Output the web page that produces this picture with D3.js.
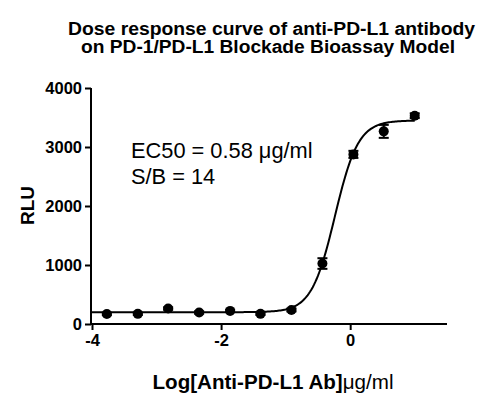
<!DOCTYPE html>
<html><head><meta charset="utf-8">
<script src="https://cdn.jsdelivr.net/npm/d3@7"></script>
<style>body{margin:0;background:#fff}svg{display:block}</style>
</head><body>
<svg id="c" width="500" height="400"></svg>
<script>
const logDose = [-3.77, -3.29, -2.82, -2.34, -1.86, -1.39, -0.91, -0.43, 0.05, 0.52, 1.0];
const rlu     = [170, 172, 262, 195, 222, 172, 238, 1025, 2875, 3265, 3530];
const sem     = [20, 20, 20, 20, 20, 20, 25, 90, 60, 110, 40];
const fitParams = [200, 3450, -0.237, 2.4]; // bottom, top, logEC50, hill
const xTicks = [-4, -2, 0];
const yTicks = [0, 1000, 2000, 3000, 4000];
const titleLines = ["Dose response curve of anti-PD-L1 antibody", "on PD-1/PD-L1 Blockade Bioassay Model"];

const svg = d3.select("#c");
const x = d3.scaleLinear().domain([-4, 1.5]).range([92, 447]);
const y = d3.scaleLinear().domain([0, 4000]).range([324, 88]);
const F = "'Liberation Sans', Arial, sans-serif";
const fmt = d => String(d);

svg.append("g").attr("transform", "translate(0,324)")
  .call(d3.axisBottom(x).tickValues(xTicks).tickSize(6).tickPadding(4).tickFormat(fmt))
  .call(g => { g.select(".domain").attr("stroke-width", 2).attr("d", "M91,0H447");
    g.selectAll(".tick line").attr("stroke-width", 2);
    g.selectAll("text").attr("font-family", F).attr("font-weight", "bold").attr("font-size", 16.5); });
svg.append("g").attr("transform", "translate(91,0)")
  .call(d3.axisLeft(y).tickValues(yTicks).tickSize(6).tickPadding(3).tickFormat(fmt))
  .call(g => { g.select(".domain").attr("stroke-width", 2).attr("d", "M0,88V325");
    g.selectAll(".tick line").attr("stroke-width", 2);
    g.selectAll("text").attr("font-family", F).attr("font-weight", "bold").attr("font-size", 16.5); });

const [fBot, fTop, fLec, fHill] = fitParams;
const curve = d3.range(-4, 1.001, 0.02).map(v => [v, fBot + (fTop - fBot) / (1 + Math.pow(10, (fLec - v) * fHill))]);
svg.append("path").datum(curve)
  .attr("d", d3.line().x(d => x(d[0])).y(d => y(d[1])))
  .attr("fill", "none").attr("stroke", "#000").attr("stroke-width", 2);

const pts = logDose.map((d, i) => ({x: d, y: rlu[i], e: sem[i]}));
const eb = svg.append("g").attr("stroke", "#000").attr("stroke-width", 2);
pts.forEach(p => {
  eb.append("line").attr("x1", x(p.x)).attr("x2", x(p.x)).attr("y1", y(p.y - p.e)).attr("y2", y(p.y + p.e));
  [p.y - p.e, p.y + p.e].forEach(v => eb.append("line").attr("x1", x(p.x) - 5).attr("x2", x(p.x) + 5).attr("y1", y(v)).attr("y2", y(v)));
});
svg.append("g").selectAll("circle").data(pts).join("circle")
  .attr("cx", d => x(d.x)).attr("cy", d => y(d.y)).attr("r", 5).attr("fill", "#000");

svg.append("g").selectAll("text").data(titleLines).join("text")
  .attr("x", (d, i) => i ? 81 : 68).attr("y", (d, i) => 34.5 + i * 18.7)
  .attr("textLength", (d, i) => i ? 374 : 407).attr("lengthAdjust", "spacingAndGlyphs")
  .attr("font-family", F).attr("font-weight", "bold").attr("font-size", 17.5).text(d => d);

const ann = svg.append("text").attr("font-family", F).attr("font-size", 21.8);
ann.append("tspan").attr("x", 131).attr("y", 158).text("EC50 = 0.58 μg/ml");
ann.append("tspan").attr("x", 131).attr("y", 183.5).text("S/B = 14");

const xl = svg.append("text").attr("x", 273).attr("y", 389).attr("text-anchor", "middle")
  .attr("font-family", F).attr("font-size", 20.6);
xl.append("tspan").attr("font-weight", "bold").text("Log[Anti-PD-L1 Ab]");
xl.append("tspan").text("μg/ml");

svg.append("text").attr("transform", "translate(34,205.5) rotate(-90)").attr("text-anchor", "middle")
  .attr("font-family", F).attr("font-weight", "bold").attr("font-size", 19).text("RLU");
</script>
</body></html>
